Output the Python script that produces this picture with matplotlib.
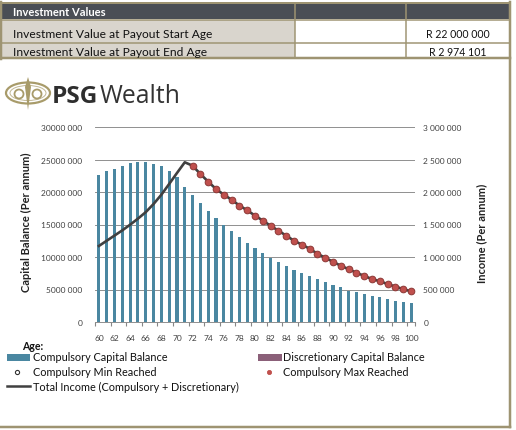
import matplotlib
matplotlib.use("Agg")
import matplotlib.pyplot as plt
from matplotlib.patches import Rectangle, Ellipse, Circle, Polygon
from matplotlib.lines import Line2D

# ---- data ----
ages = list(range(60, 101))
capital_m = [22.56, 23.2, 23.6, 24.05, 24.4, 24.56, 24.56, 24.26, 23.95, 23.2,
             22.26, 20.8, 19.49, 18.26, 17.03, 15.95, 14.87, 13.95, 13.03, 12.2,
             11.45, 10.65, 9.88, 9.21, 8.65, 8.03, 7.51, 7.1, 6.59, 6.12,
             5.71, 5.35, 4.84, 4.58, 4.32, 4.01, 3.81, 3.5, 3.19, 3.04, 2.974]
income_m = [1.17, 1.25, 1.33, 1.41, 1.497, 1.59, 1.69, 1.815, 1.958, 2.123,
            2.292, 2.457, 2.405, 2.277, 2.16, 2.046, 1.96, 1.88, 1.792, 1.718,
            1.637, 1.56, 1.48, 1.405, 1.328, 1.25, 1.19, 1.127, 1.05, 0.988,
            0.926, 0.865, 0.813, 0.757, 0.71, 0.659, 0.628, 0.582, 0.546, 0.504, 0.473]
max_reached_ages = list(range(72, 101))

left_ticks = [0, 5e6, 10e6, 15e6, 20e6, 25e6, 30e6]
left_labels = ["0", "5000 000", "10000 000", "15000 000", "20000 000", "25000 000", "30000 000"]
right_ticks = [0, 5e5, 1e6, 1.5e6, 2e6, 2.5e6, 3e6]
right_labels = ["0", "500 000", "1 000 000", "1 500 000", "2 000 000", "2 500 000", "3 000 000"]

table_rows = ["Investment Value at Payout Start Age", "Investment Value at Payout End Age"]
table_values = ["R 22 000 000", "R 2 974 101"]

BLUE = "#4A87A1"
PURPLE = "#8B6079"
RED = "#C0504D"
RED_EDGE = "#8C3836"
LINE = "#404040"
KHAKI = "#9E9472"
GOLD = "#A89B6A"
FONT = "Lato"

W, H = 516, 431
fig = plt.figure(figsize=(W / 100, H / 100), dpi=100)
plt.rcParams['font.family'] = [FONT, 'DejaVu Sans']

# background axes in pixel coords for table, logo, legend
bg = fig.add_axes([0, 0, 1, 1])
bg.set_xlim(0, W)
bg.set_ylim(H, 0)
bg.axis("off")
px = 0.72  # one pixel in points

# ---- table ----
bg.add_patch(Rectangle((2, 5), 507, 15, color="#4A4E55", lw=0))
bg.add_patch(Rectangle((2, 21), 293, 38, color="#D9D5CD", lw=0))
for y, lw in [(4, 2), (20.5, 1.5), (43.5, 1.5), (59, 2.5)]:
    bg.plot([0, 510], [y, y], color=KHAKI, lw=lw * px)
for x in [295, 405.5]:
    bg.plot([x, x], [4, 59], color=KHAKI, lw=1.5 * px)
bg.plot([1, 1], [3, 60], color=KHAKI, lw=2.5 * px)
bg.plot([509.5, 509.5], [3, 428], color=KHAKI, lw=2.5 * px)
bg.plot([0, 510], [428, 428], color=KHAKI, lw=2.5 * px)

bg.text(13, 12.5, "Investment Values", color="white", fontsize=8.0, fontweight="bold", va="center")
for i, (lab, val) in enumerate(zip(table_rows, table_values)):
    yy = [35, 52][i]
    bg.text(13, yy, lab, color="#111111", fontsize=8.65, va="center")
    bg.text(458, yy, val, color="#111111", fontsize=7.6, va="center", ha="center")

# ---- logo ----
bg.add_patch(Ellipse((28, 94), 44, 21, fill=False, ec=GOLD, lw=2.2 * px))
bg.add_patch(Ellipse((28, 94), 36, 15, fill=False, ec=GOLD, lw=1 * px, alpha=0.7))
bg.add_patch(Circle((19, 95), 4.5, fill=False, ec=GOLD, lw=1.8 * px))
bg.add_patch(Circle((37, 95), 4.5, fill=False, ec=GOLD, lw=1.8 * px))
bg.add_patch(Polygon([(28, 78), (31, 88), (28, 111), (25, 88)], closed=True, color=GOLD, lw=0))
bg.text(51.5, 103.5, "PSG", fontsize=17.6, fontweight="bold", color="#2E2E2E", family="Open Sans", va="baseline")
bg.text(100, 103.5, "Wealth", fontsize=17.8, color="#333333", family="Open Sans", va="baseline")

# ---- main chart ----
L, R, T, B = 95, 415, 128, 323
ax = fig.add_axes([L / W, 1 - B / H, (R - L) / W, (B - T) / H])
ax.patch.set_alpha(0)
xpos = list(range(len(ages)))
capital = [v * 1e6 for v in capital_m]
ax.bar(xpos, capital, width=0.4, color=BLUE, zorder=3)
ax.set_xlim(-0.5, len(ages) - 0.5)
ax.set_ylim(0, 30e6)
ax.set_yticks(left_ticks)
ax.set_yticklabels(left_labels)
ax.grid(axis="y", color="#868686", lw=0.9 * px, zorder=0)
ax.set_axisbelow(True)
ax.set_xticks(xpos[::2])
ax.set_xticklabels([str(a) for a in ages[::2]])
ax.set_xticks([x - 0.5 for x in xpos[::2]] + [len(ages) - 0.5], minor=True)
ax.tick_params(axis="x", which="major", length=0, pad=9, labelsize=6, labelcolor="#404040")
ax.tick_params(axis="x", which="minor", length=3, color="#868686", width=0.8)
ax.tick_params(axis="y", length=0, pad=9, labelsize=6, labelcolor="#404040")
for s in ["top", "right", "left"]:
    ax.spines[s].set_visible(False)
ax.spines["bottom"].set_color("#868686")
ax.spines["bottom"].set_linewidth(0.9 * px)

ax2 = ax.twinx()
income = [v * 1e6 for v in income_m]
ax2.plot(xpos, income, color=LINE, lw=1.9, zorder=4)
mx = [ages.index(a) for a in max_reached_ages]
ax2.plot(mx, [income[i] for i in mx], "o", ms=4.8, mfc=RED, mec=RED_EDGE, mew=0.7, zorder=5)
ax2.set_ylim(0, 3e6)
ax2.set_yticks(right_ticks)
ax2.set_yticklabels(right_labels)
ax2.tick_params(axis="y", length=0, pad=6, labelsize=6, labelcolor="#404040")
for s in ["top", "right", "left", "bottom"]:
    ax2.spines[s].set_visible(False)

# axis titles
bg.text(26, 222, "Capital Balance (Per annum)", rotation=90, fontsize=8, fontweight="bold",
        color="#222222", ha="center", va="center")
bg.text(482, 233, "Income (Per annum)", rotation=90, fontsize=8, fontweight="bold",
        color="#222222", ha="center", va="center")

# ---- legend ----
bg.text(22, 347, "Age:", fontsize=7.6, fontweight="bold", color="#111111", va="center")
bg.add_patch(Rectangle((7, 355), 23, 7, color=BLUE, lw=0))
bg.add_patch(Rectangle((258, 355), 24, 7, color=PURPLE, lw=0))
bg.add_line(Line2D([17], [373], marker="o", ms=3, mfc="white", mec="#333333", mew=0.8))
bg.add_line(Line2D([269], [373], marker="o", ms=3, mfc=RED, mec=RED, mew=0.6))
bg.plot([7, 30], [387, 387], color=LINE, lw=1.8)
legend_items = [(33, 358, "Compulsory Capital Balance"), (283, 358, "Discretionary Capital Balance"),
                (33, 373, "Compulsory Min Reached"), (283, 373, "Compulsory Max Reached"),
                (33, 387, "Total Income (Compulsory + Discretionary)")]
for x, y, t in legend_items:
    bg.text(x, y, t, fontsize=7.8, color="#111111", va="center")

fig.savefig("out.png", dpi=100)
